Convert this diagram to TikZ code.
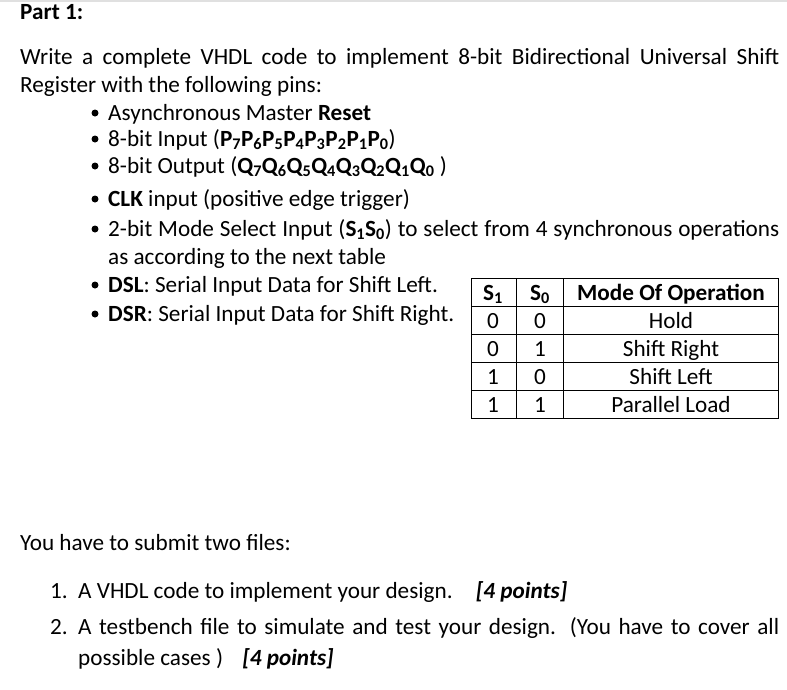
\documentclass[tikz,border=0pt]{standalone}
\usepackage{fontspec}
\setmainfont{Carlito}
\newcommand{\sub}[1]{\textsubscript{#1}}
\begin{document}
\begin{tikzpicture}[x=1pt,y=-1pt,
  txt/.style={anchor=base west,inner sep=0pt,font=\fontsize{23.2}{28}\selectfont},
  cell/.style={anchor=base,inner sep=0pt,font=\fontsize{23.2}{28}\selectfont},
  hcell/.style={cell,font=\fontsize{23.2}{28}\selectfont\bfseries},
  bul/.style={circle,fill=black,inner sep=0pt,minimum size=7pt}]
\useasboundingbox (0,0) rectangle (787,689);
\fill[black!12] (0,0) rectangle (787,2);
\node[txt,font=\fontsize{23.2}{28}\selectfont\bfseries] (t) at (20,19) {Part 1:};
\node[txt] (p1) at (20,64) {\makebox[759pt][s]{Write a complete VHDL code to implement 8-bit Bidirectional Universal Shift}};
\node[txt] (p2) at (20,92) {Register with the following pins:};
\foreach \y/\t [count=\i] in {
 120/{Asynchronous Master \textbf{Reset}},
 146/{8-bit Input (\textbf{P\sub{7}P\sub{6}P\sub{5}P\sub{4}P\sub{3}P\sub{2}P\sub{1}P\sub{0}})},
 173/{8-bit Output (\textbf{Q\sub{7}Q\sub{6}Q\sub{5}Q\sub{4}Q\sub{3}Q\sub{2}Q\sub{1}Q\sub{0}} )},
 206/{\textbf{CLK} input (positive edge trigger)},
 292/{\textbf{DSL}: Serial Input Data for Shift Left.},
 321/{\textbf{DSR}: Serial Input Data for Shift Right.}}
{
 \node[bul] (b\i) at (95,\y-7) {};
 \node[txt] (l\i) at (108,\y) {\t};
}
\node[bul] (b7) at (95,229) {};
\node[txt] (l7) at (108,236) {\makebox[671pt][s]{2-bit Mode Select Input (\textbf{S\sub{1}S\sub{0}}) to select from 4 synchronous operations}};
\node[txt] (l8) at (108,264) {as according to the next table};
% table
\draw[line width=0.8pt] (471,278) rectangle (778,418);
\foreach \y in {306,334,362,390} \draw[line width=0.8pt] (471,\y) -- (778,\y);
\foreach \x in {516,563} \draw[line width=0.8pt] (\x,278) -- (\x,418);
\node[hcell] (h1) at (493,300) {S\sub{1}};
\node[hcell] (h2) at (540,300) {S\sub{0}};
\node[hcell] (h3) at (671,300) {Mode Of Operation};
\foreach \a/\b/\m [count=\i] in {0/0/Hold,0/1/Shift Right,1/0/Shift Left,1/1/Parallel Load}{
 \node[cell] (r\i a) at (493,300+28*\i) {\a};
 \node[cell] (r\i b) at (540,300+28*\i) {\b};
 \node[cell] (r\i c) at (671,300+28*\i) {\m};
}
\node[txt] (s) at (20,550) {You have to submit two files:};
\node[txt] (n1) at (50,598) {1.};
\node[txt] (i1) at (78,598) {A VHDL code to implement your design.\hspace{0.7em} \textbf{\textit{[4 points]}}};
\node[txt] (n2) at (50,634) {2.};
\node[txt] (i2) at (78,634) {\makebox[701pt][s]{A testbench file to simulate and test your design. (You have to cover all}};
\node[txt] (i2b) at (78,665) {possible cases )\hspace{0.6em} \textbf{\textit{[4 points]}}};
\end{tikzpicture}
\end{document}
